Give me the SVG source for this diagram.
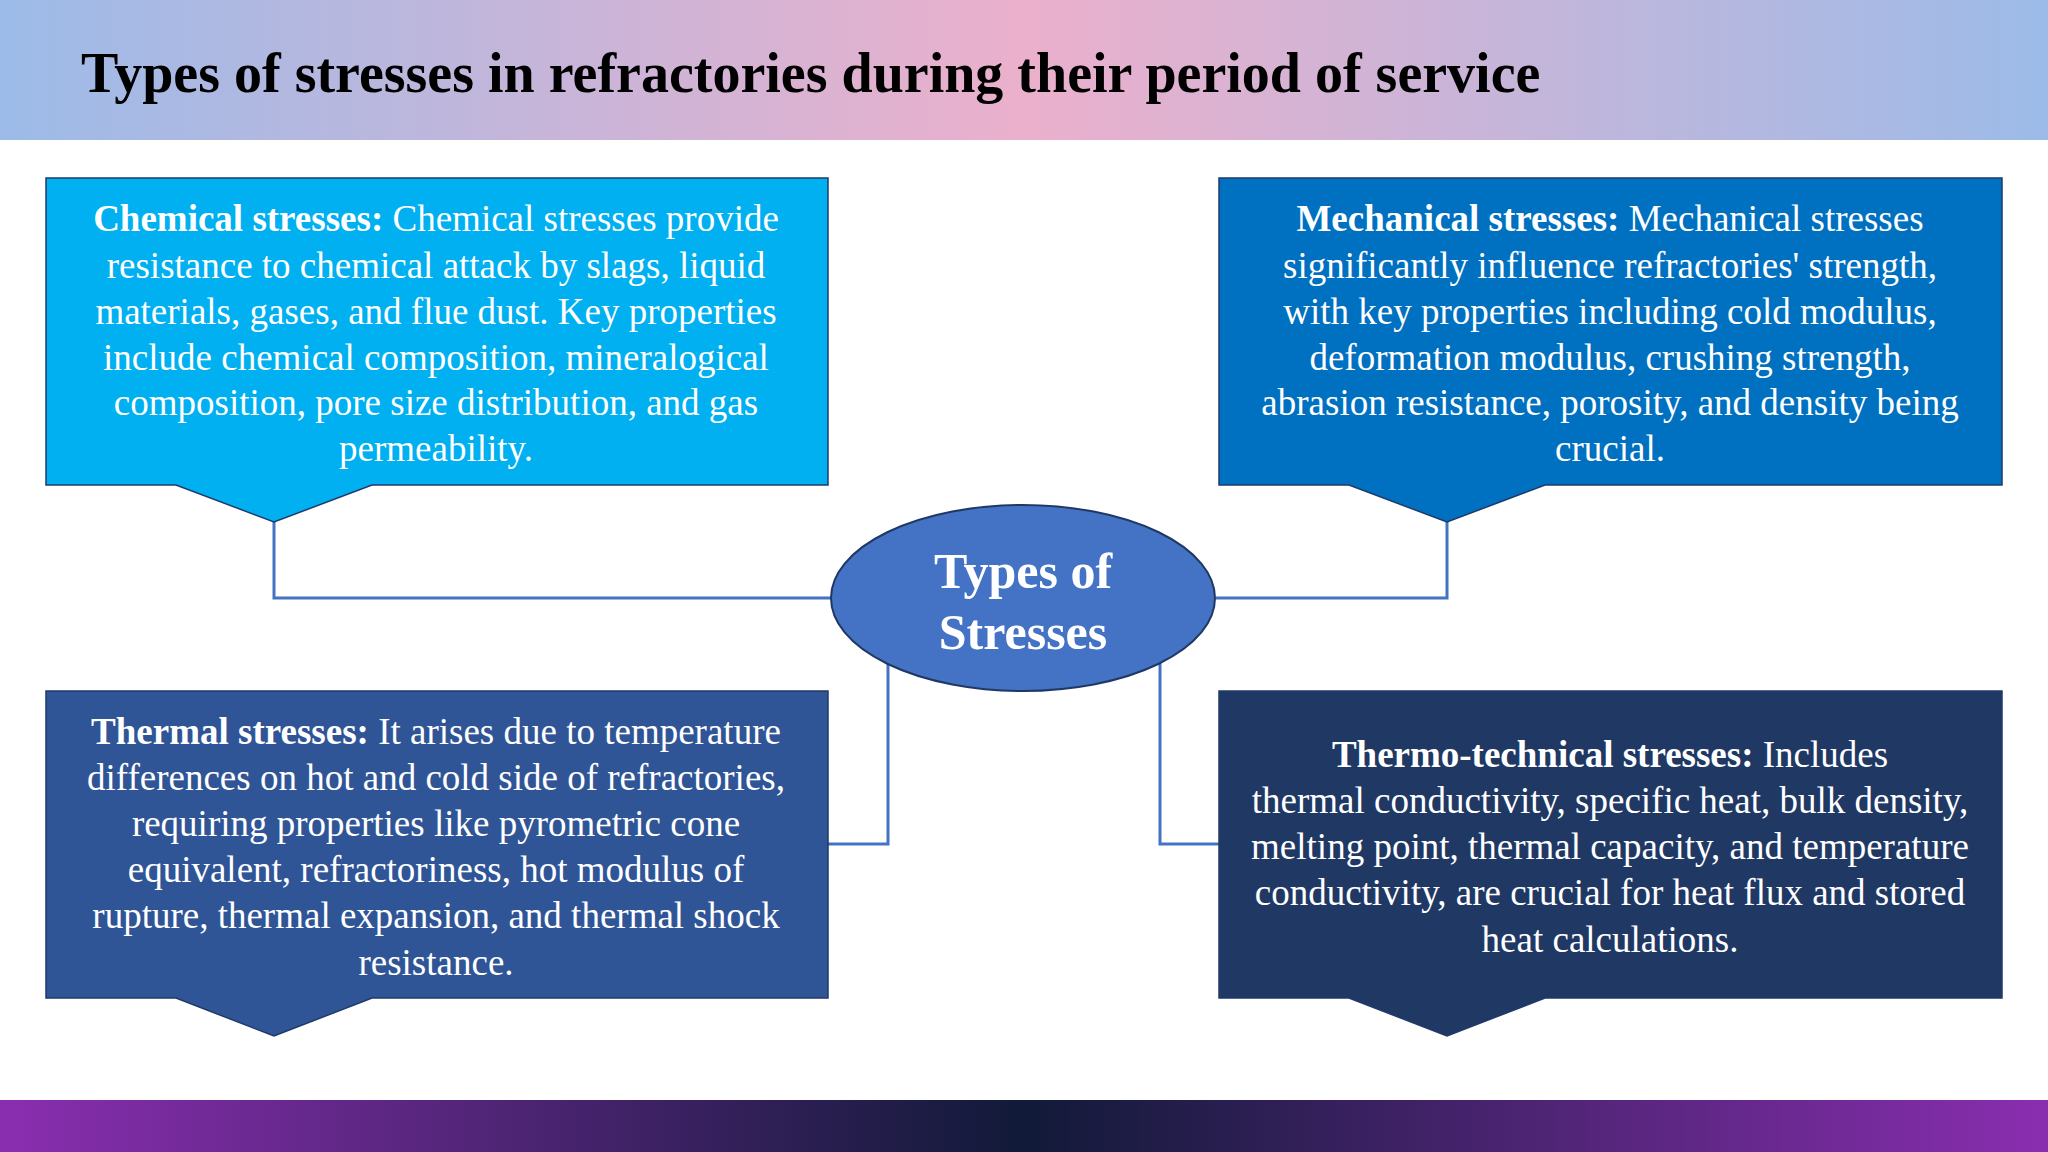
<svg xmlns="http://www.w3.org/2000/svg" width="2048" height="1152" viewBox="0 0 2048 1152">
<defs>
<linearGradient id="hdr" x1="0" x2="1" y1="0" y2="0"><stop offset="0" stop-color="#9cbbe8"/><stop offset="0.5" stop-color="#ebb0cc"/><stop offset="1" stop-color="#9cbbe8"/></linearGradient>
<linearGradient id="ftr" x1="0" x2="1" y1="0" y2="0"><stop offset="0" stop-color="#8a2eb0"/><stop offset="0.5" stop-color="#111a38"/><stop offset="1" stop-color="#8a2eb0"/></linearGradient>
<style>
.box{stroke:#1f3a6a;stroke-width:1.5}
.t{font-family:"Liberation Serif",serif;font-size:37px;fill:#fff;text-anchor:middle}
.b{font-weight:bold}
.c{fill:none;stroke:#4472c4;stroke-width:3}
</style>
</defs>
<rect width="2048" height="1152" fill="#fff"/>
<rect width="2048" height="140" fill="url(#hdr)"/>
<text x="81" y="92" font-family="Liberation Serif,serif" font-weight="bold" font-size="56" fill="#000">Types of stresses in refractories during their period of service</text>
<rect y="1100" width="2048" height="52" fill="url(#ftr)"/>
<g id="connectors">
<polyline class="c" points="274,522 274,598 831,598"/>
<polyline class="c" points="1216,598 1447,598 1447,522"/>
<polyline class="c" points="888,663 888,844 828,844"/>
<polyline class="c" points="1160,663 1160,844 1219,844"/>
</g>
<g id="chemical">
<path class="box" fill="#00b0f0" d="M46,178H828V485H372L274,522L176,485H46Z"/>
<text class="t"><tspan x="436" y="231"><tspan class="b">Chemical stresses:</tspan> Chemical stresses provide</tspan><tspan x="436" y="278">resistance to chemical attack by slags, liquid</tspan><tspan x="436" y="324">materials, gases, and flue dust. Key properties</tspan><tspan x="436" y="370">include chemical composition, mineralogical</tspan><tspan x="436" y="415">composition, pore size distribution, and gas</tspan><tspan x="436" y="461">permeability.</tspan></text>
</g>
<g id="mechanical">
<path class="box" fill="#0070c0" d="M1219,178H2002V485H1545L1447,522L1349,485H1219Z"/>
<text class="t"><tspan x="1610" y="231"><tspan class="b">Mechanical stresses:</tspan> Mechanical stresses</tspan><tspan x="1610" y="278">significantly influence refractories' strength,</tspan><tspan x="1610" y="324">with key properties including cold modulus,</tspan><tspan x="1610" y="370">deformation modulus, crushing strength,</tspan><tspan x="1610" y="415">abrasion resistance, porosity, and density being</tspan><tspan x="1610" y="461">crucial.</tspan></text>
</g>
<g id="thermal">
<path class="box" fill="#2f5597" d="M46,691H828V998H372L274,1036L176,998H46Z"/>
<text class="t"><tspan x="436" y="744"><tspan class="b">Thermal stresses:</tspan> It arises due to temperature</tspan><tspan x="436" y="790">differences on hot and cold side of refractories,</tspan><tspan x="436" y="836">requiring properties like pyrometric cone</tspan><tspan x="436" y="882">equivalent, refractoriness, hot modulus of</tspan><tspan x="436" y="928">rupture, thermal expansion, and thermal shock</tspan><tspan x="436" y="975">resistance.</tspan></text>
</g>
<g id="thermotechnical">
<path class="box" fill="#203864" d="M1219,691H2002V998H1545L1447,1036L1349,998H1219Z"/>
<text class="t"><tspan x="1610" y="767"><tspan class="b">Thermo-technical stresses:</tspan> Includes</tspan><tspan x="1610" y="813">thermal conductivity, specific heat, bulk density,</tspan><tspan x="1610" y="859">melting point, thermal capacity, and temperature</tspan><tspan x="1610" y="905">conductivity, are crucial for heat flux and stored</tspan><tspan x="1610" y="952">heat calculations.</tspan></text>
</g>
<g id="center">
<ellipse cx="1023" cy="598" rx="192" ry="93" fill="#4472c4" stroke="#1f3864" stroke-width="2"/>
<text class="t b" font-size="50" style="font-size:50px"><tspan x="1023" y="588">Types of</tspan><tspan x="1023" y="649">Stresses</tspan></text>
</g>
</svg>
